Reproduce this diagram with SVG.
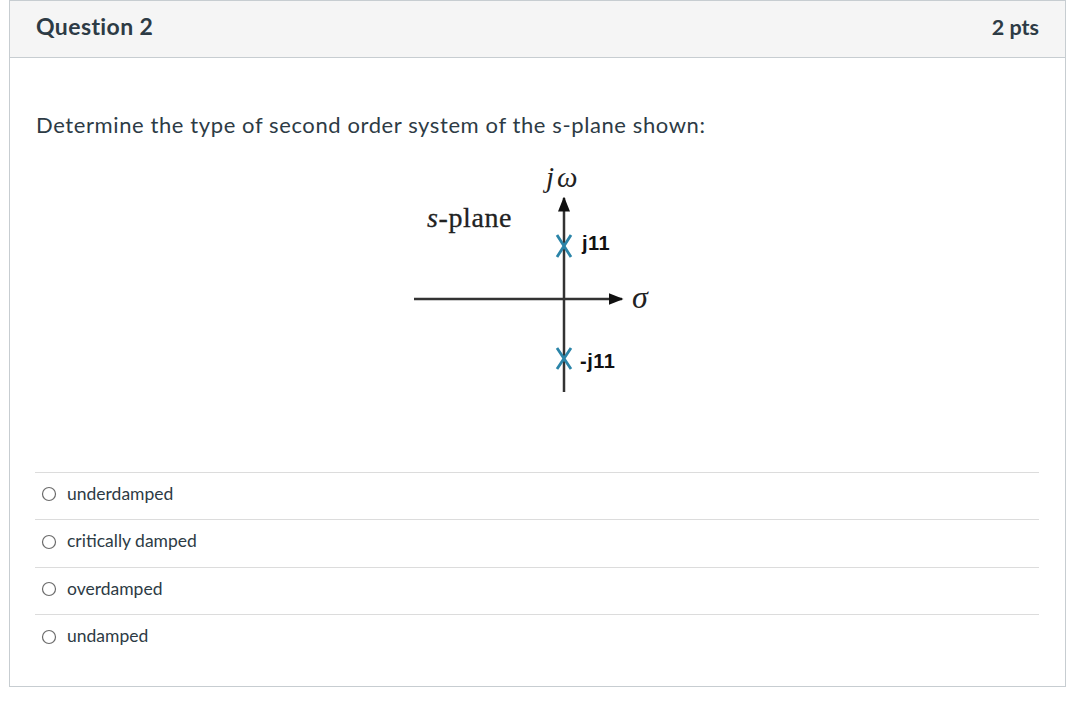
<svg xmlns="http://www.w3.org/2000/svg" width="1082" height="701" viewBox="0 0 1082 701">
<style>
.ui{font-family:Lato,"Liberation Sans",sans-serif;fill:#2d3b45}
.opt{font-size:17.5px}
.sep{stroke:#dcdcdc;stroke-width:1}
.radio{fill:#fff;stroke:#6b6b6b;stroke-width:1.2}
.ax{stroke:#333;stroke-width:2.5;fill:none}
.pole{stroke:#2a84a8;stroke-width:2.8;fill:none}
.lbl{font-family:"Liberation Sans",Arial,sans-serif;font-weight:bold;font-size:20px;letter-spacing:0.5px;fill:#111}
.math{font-family:"Liberation Serif","Times New Roman",serif;fill:#222}
</style>
<defs>
<marker id="ah" viewBox="0 0 10 10" refX="9" refY="5" markerWidth="6" markerHeight="6" markerUnits="strokeWidth" orient="auto">
<path d="M0,1 L10,5 L0,9 Z" fill="#111"/>
</marker>
</defs>
<rect x="0" y="0" width="1082" height="701" fill="#fff"/>
<g id="card">
<rect x="9.5" y="0.5" width="1056" height="686" fill="#fff" stroke="#c7cdd1"/>
<rect x="10" y="1" width="1055" height="56" fill="#f5f5f5"/>
<line x1="10" y1="57.5" x2="1065" y2="57.5" stroke="#c7cdd1"/>
<text class="ui" x="36" y="35" font-size="23" font-weight="bold" letter-spacing="0.4">Question 2</text>
<text class="ui" x="1039" y="35" font-size="21.5" font-weight="bold" text-anchor="end" fill="#555">2 pts</text>
<text class="ui" x="36" y="133" font-size="22" letter-spacing="0.6">Determine the type of second order system of the s-plane shown:</text>
</g>
<g id="splane">
<g id="connectors">
<line class="ax" x1="564" y1="392" x2="564" y2="198" marker-end="url(#ah)"/>
<line class="ax" x1="414" y1="299" x2="622" y2="299" marker-end="url(#ah)"/>
</g>
<text class="math" x="546" y="187" font-size="29" font-style="italic" letter-spacing="3">jω</text>
<text class="math" x="427" y="227" font-size="28" letter-spacing="0.6" stroke="#222" stroke-width="0.3"><tspan font-style="italic">s</tspan>-plane</text>
<text class="math" x="632" y="308" font-size="32" font-style="italic">σ</text>
<g id="pole1">
<path class="pole" d="M557,235 L571,257 M571,235 L557,257"/>
<text class="lbl" x="582" y="250">j11</text>
</g>
<g id="pole2">
<path class="pole" d="M557,348 L571,369 M571,348 L557,369"/>
<text class="lbl" x="580" y="368">-j11</text>
</g>
</g>
<g id="options">
<line class="sep" x1="35" y1="472.5" x2="1039" y2="472.5"/>
<line class="sep" x1="35" y1="519.5" x2="1039" y2="519.5"/>
<line class="sep" x1="35" y1="567.5" x2="1039" y2="567.5"/>
<line class="sep" x1="35" y1="614.5" x2="1039" y2="614.5"/>
<g id="opt1"><circle class="radio" cx="49" cy="494" r="6.5"/><text class="ui opt" x="67" y="500">underdamped</text></g>
<g id="opt2"><circle class="radio" cx="49" cy="542" r="6.5"/><text class="ui opt" x="67" y="547">critically damped</text></g>
<g id="opt3"><circle class="radio" cx="49" cy="589" r="6.5"/><text class="ui opt" x="67" y="595">overdamped</text></g>
<g id="opt4"><circle class="radio" cx="49" cy="637" r="6.5"/><text class="ui opt" x="67" y="642">undamped</text></g>
</g>
</svg>
